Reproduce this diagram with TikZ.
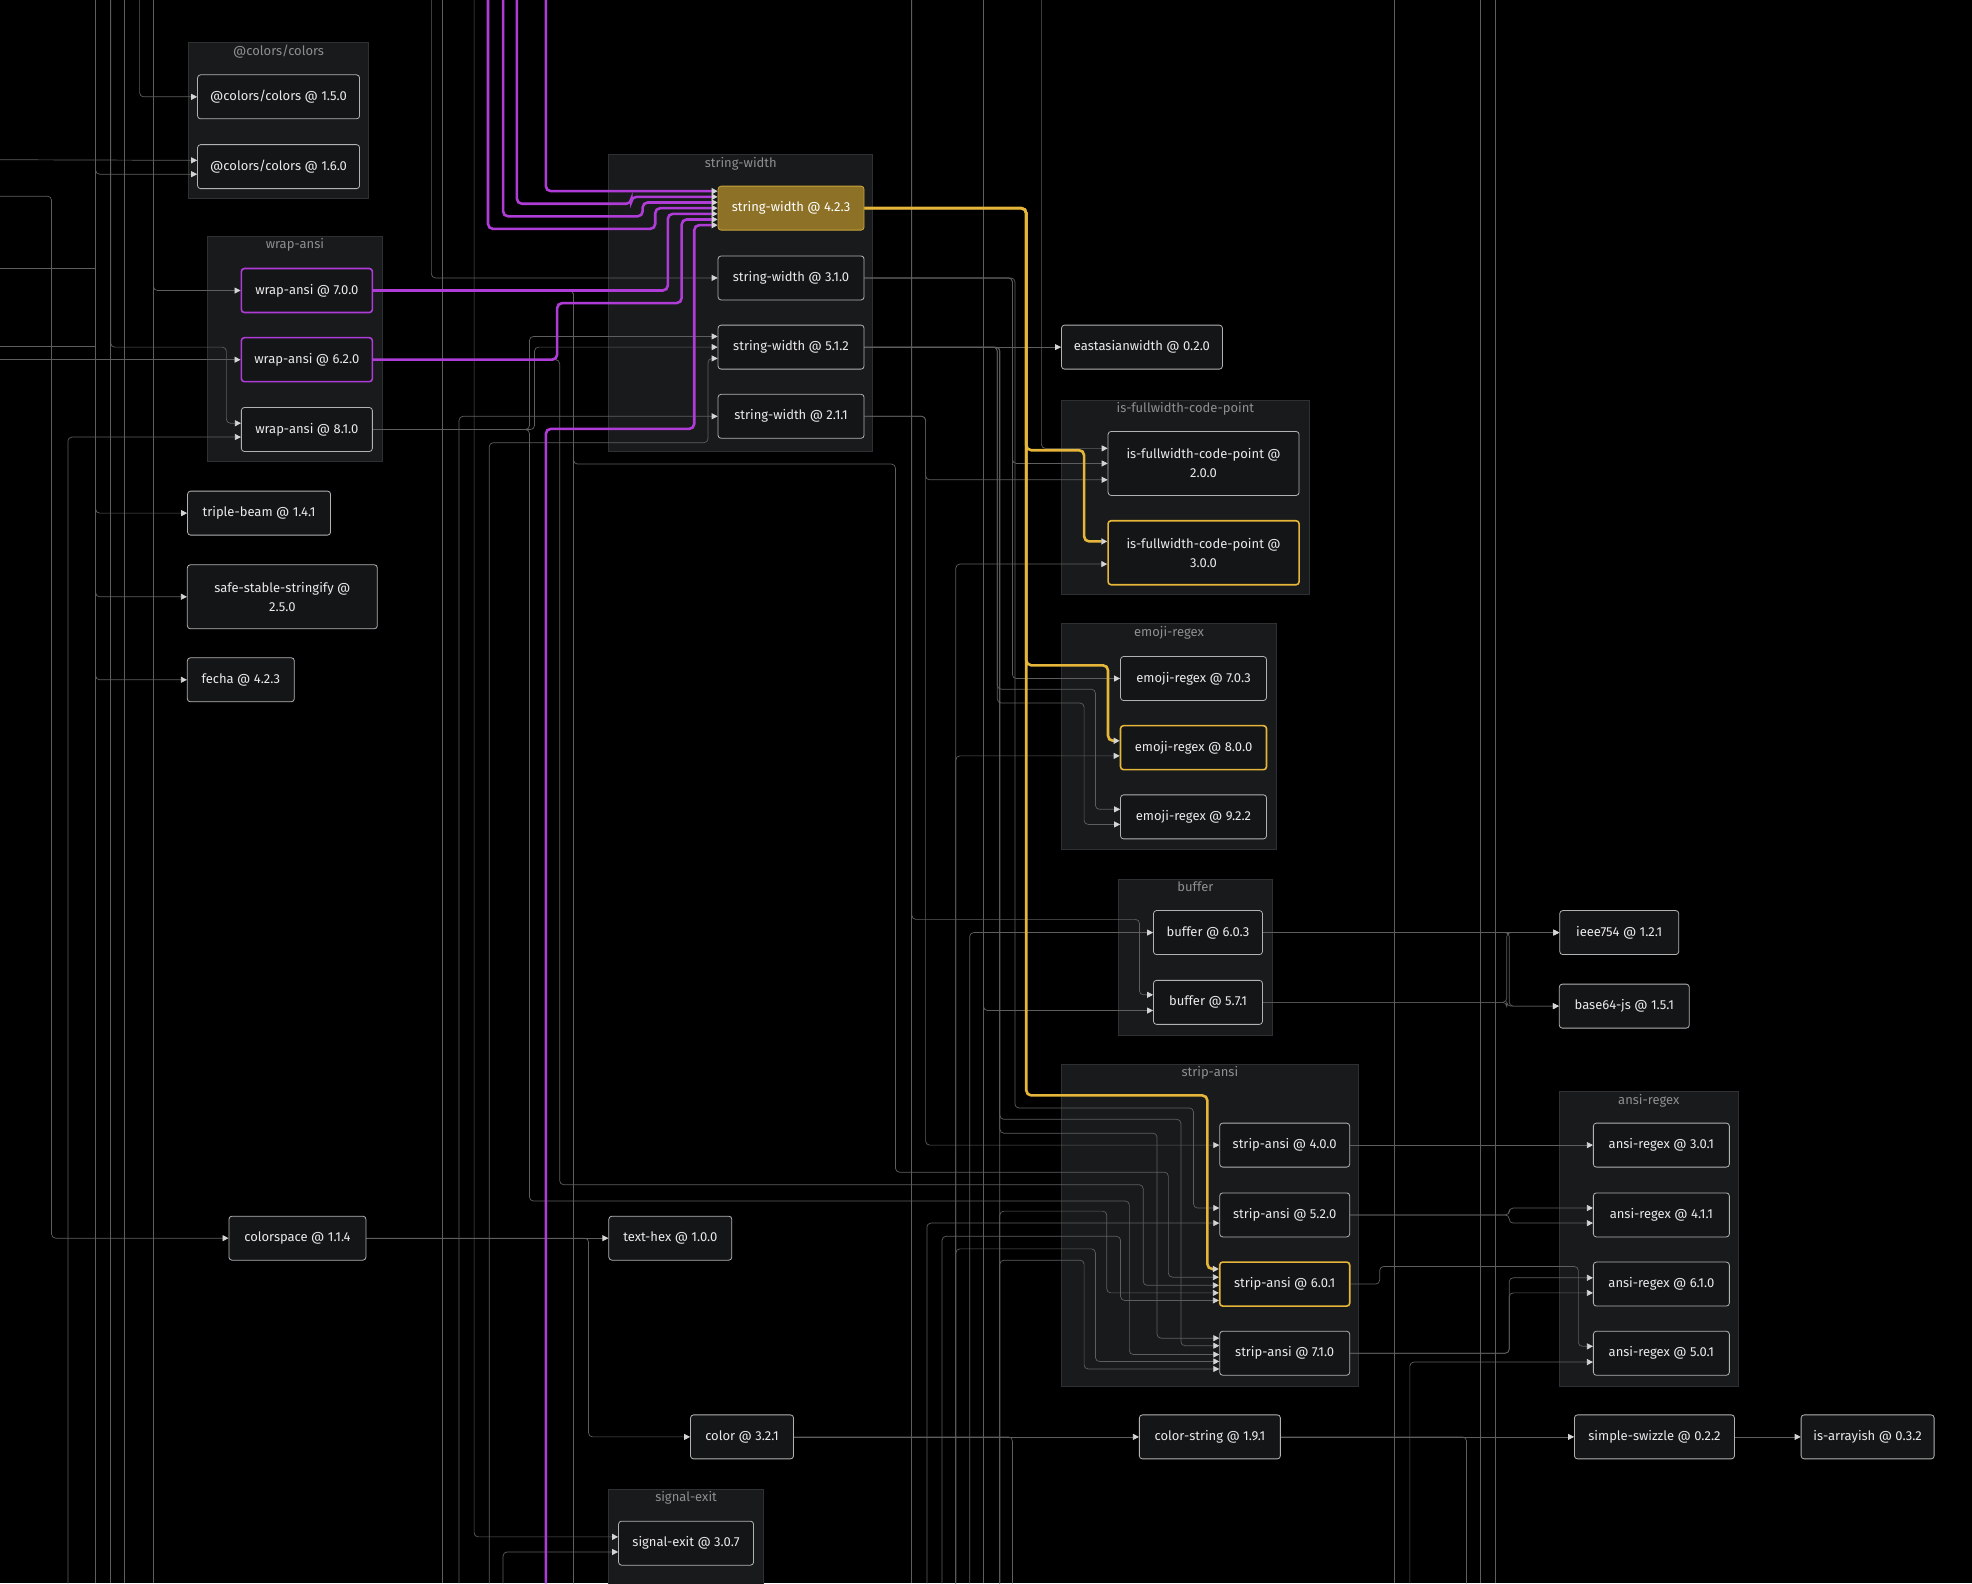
\documentclass[tikz,border=0pt]{standalone}
\usepackage{fontspec}
\setmainfont{Fira Sans}
\usetikzlibrary{arrows.meta,calc}

\definecolor{grpfill}{HTML}{181A1C}
\definecolor{grpline}{HTML}{2E3134}
\definecolor{grptext}{HTML}{8E8F90}
\definecolor{nodefill}{HTML}{131516}
\definecolor{nodeline}{HTML}{B2B2B2}
\definecolor{nodetext}{HTML}{EAEAEA}
\definecolor{wirec}{HTML}{5E5E5E}
\definecolor{tipc}{HTML}{D4D4D4}
\definecolor{purp}{HTML}{B03CD8}
\definecolor{goldline}{HTML}{E6B63A}
\definecolor{goldfill}{HTML}{8C7126}
\definecolor{goldedge}{HTML}{C9A43A}

\newcommand\pkgfont{\fontsize{13}{19}\selectfont}

\pgfdeclarelayer{back}
\pgfdeclarelayer{wires}
\pgfsetlayers{back,wires,main}

\tikzset{
  pkg/.style={draw=nodeline, line width=0.8pt, fill=nodefill, rounded corners=3pt,
    text=nodetext, font=\pkgfont, minimum height=44pt, inner sep=2pt, align=center},
  via/.style={pkg, draw=purp, line width=1.6pt},
  hot/.style={pkg, draw=goldline, line width=1.6pt},
  picked/.style={pkg, draw=goldedge, fill=goldfill, text=white},
  grp/.style={fill=grpfill, draw=grpline, line width=0.8pt},
  grplabel/.style={text=grptext, font=\pkgfont, anchor=north, inner sep=2pt},
  line/.style={draw=wirec, line width=0.7pt, rounded corners=4pt},
  wire/.style={line, -{Triangle[length=6pt,width=6pt,color=tipc]}},
  vio/.style={draw=purp, line width=2.6pt, rounded corners=5pt, -{Triangle[length=6pt,width=6pt,color=tipc]}},
  gold/.style={draw=goldline, line width=2.6pt, rounded corners=5pt, -{Triangle[length=6pt,width=6pt,color=tipc]}}
}

\begin{document}
\begin{tikzpicture}[x=1.2577pt, y=-1.2577pt]

  % --- 1. canvas ---
  \useasboundingbox (0,0) rectangle (1568,1259);
  \clip (0,0) rectangle (1568,1259);
  \begin{pgfonlayer}{back}
    \fill[black] (0,0) rectangle (1568,1259);
  \end{pgfonlayer}

  % free ends of the wires (top, bottom, left edge)
  \foreach \x in {54,76,88,99,111,122,343,352,365,377,388,389,400,411,434,456,
                  725,737,749,760,771,782,795,805,828,1109,1121,1166,1177,1189} {
    \coordinate (t\x) at (\x,0);
    \coordinate (b\x) at (\x,1259);
  }
  \foreach \y in {127,156,213,275,286}
    \coordinate (l\y) at (0,\y);

  % --- 2. groups ---
  \begin{pgfonlayer}{back}
    \draw[grp] (150,34) rectangle (293,158);
    \draw[grp] (165,188) rectangle (304,367);
    \draw[grp] (484,123) rectangle (694,359);
    \draw[grp] (844,318) rectangle (1041,473);
    \draw[grp] (844,496) rectangle (1015,675);
    \draw[grp] (889,699) rectangle (1012,823);
    \draw[grp] (844,846) rectangle (1080,1102);
    \draw[grp] (1240,868) rectangle (1382,1102);
    \draw[grp] (484,1184) rectangle (607,1275);
  \end{pgfonlayer}
  \node[grplabel] (gcolors) at (221.5,34) {@colors/colors};
  \node[grplabel] (gwrap)   at (234.5,188) {wrap-ansi};
  \node[grplabel] (gsw)     at (589,123) {string-width};
  \node[grplabel] (gifcp)   at (942.5,318) {is-fullwidth-code-point};
  \node[grplabel] (gemoji)  at (929.5,496) {emoji-regex};
  \node[grplabel] (gbuf)    at (950.5,699) {buffer};
  \node[grplabel] (gstrip)  at (962,846) {strip-ansi};
  \node[grplabel] (gansi)   at (1311,868) {ansi-regex};
  \node[grplabel] (gsig)    at (545.5,1184) {signal-exit};

  % --- 3. packages ---
  \node[pkg, minimum width=162pt] (cc150) at (221.5,77) {@colors/colors @ 1.5.0};
  \node[pkg, minimum width=162pt] (cc160) at (221.5,132.5) {@colors/colors @ 1.6.0};
  \node[via, minimum width=131pt] (wa700) at (244,231) {wrap-ansi @ 7.0.0};
  \node[via, minimum width=131pt] (wa620) at (244,286) {wrap-ansi @ 6.2.0};
  \node[pkg, minimum width=131pt] (wa810) at (244,341.5) {wrap-ansi @ 8.1.0};
  \node[pkg, minimum width=143pt] (tb141) at (206,408) {triple-beam @ 1.4.1};
  \node[pkg, minimum width=190pt, minimum height=64pt] (ssf) at (224.5,474.5) {safe-stable-stringify @\\2.5.0};
  \node[pkg, minimum width=107pt] (fecha) at (191.5,540.5) {fecha @ 4.2.3};

  \node[picked, minimum width=146pt] (sw423) at (629,165.5) {string-width @ 4.2.3};
  \node[pkg, minimum width=146pt] (sw310) at (629,221) {string-width @ 3.1.0};
  \node[pkg, minimum width=146pt] (sw512) at (629,276) {string-width @ 5.1.2};
  \node[pkg, minimum width=146pt] (sw211) at (629,331) {string-width @ 2.1.1};

  \node[pkg, minimum width=161pt] (eaw) at (908,276) {eastasianwidth @ 0.2.0};
  \node[pkg, minimum width=191pt, minimum height=64pt] (ifcp200) at (957,368.5) {is-fullwidth-code-point @\\2.0.0};
  \node[hot, minimum width=191pt, minimum height=64pt] (ifcp300) at (957,439.5) {is-fullwidth-code-point @\\3.0.0};
  \node[pkg, minimum width=146pt] (er703) at (949,539.5) {emoji-regex @ 7.0.3};
  \node[hot, minimum width=146pt] (er800) at (949,594.5) {emoji-regex @ 8.0.0};
  \node[pkg, minimum width=146pt] (er922) at (949,649.5) {emoji-regex @ 9.2.2};
  \node[pkg, minimum width=109pt] (buf603) at (960.5,741.5) {buffer @ 6.0.3};
  \node[pkg, minimum width=109pt] (buf571) at (960.5,797) {buffer @ 5.7.1};
  \node[pkg, minimum width=119pt] (ieee) at (1287.5,741.5) {ieee754 @ 1.2.1};
  \node[pkg, minimum width=130pt] (base64) at (1291.5,800) {base64-js @ 1.5.1};

  \node[pkg, minimum width=130pt] (sa400) at (1021.5,910.5) {strip-ansi @ 4.0.0};
  \node[pkg, minimum width=130pt] (sa520) at (1021.5,966) {strip-ansi @ 5.2.0};
  \node[hot, minimum width=130pt] (sa601) at (1021.5,1021) {strip-ansi @ 6.0.1};
  \node[pkg, minimum width=130pt] (sa710) at (1021.5,1076) {strip-ansi @ 7.1.0};
  \node[pkg, minimum width=136pt] (ar301) at (1321,910.5) {ansi-regex @ 3.0.1};
  \node[pkg, minimum width=136pt] (ar411) at (1321,966) {ansi-regex @ 4.1.1};
  \node[pkg, minimum width=136pt] (ar610) at (1321,1021) {ansi-regex @ 6.1.0};
  \node[pkg, minimum width=136pt] (ar501) at (1321,1076) {ansi-regex @ 5.0.1};

  \node[pkg, minimum width=137pt] (colorspace) at (236.5,984.5) {colorspace @ 1.1.4};
  \node[pkg, minimum width=123pt] (texthex) at (533,984.5) {text-hex @ 1.0.0};
  \node[pkg, minimum width=103pt] (color321) at (590,1142.5) {color @ 3.2.1};
  \node[pkg, minimum width=141pt] (colorstring) at (962,1142.5) {color-string @ 1.9.1};
  \node[pkg, minimum width=160pt] (simpleswizzle) at (1315.5,1142.5) {simple-swizzle @ 0.2.2};
  \node[pkg, minimum width=133pt] (isarrayish) at (1485,1142.5) {is-arrayish @ 0.3.2};
  \node[pkg, minimum width=135pt] (signalexit) at (545.5,1227) {signal-exit @ 3.0.7};

  \begin{pgfonlayer}{wires}
  % --- 4. grey wires, left column ---
  \draw[wire] (t111) |- (cc150.west);
  \draw[wire] (l127) -- ($(cc160.west)+(0,-5)$);
  \draw[wire] (t76) |- ($(cc160.west)+(0,6)$);
  \draw[wire] (t76) |- (tb141.west);
  \draw[wire] (t76) |- (ssf.west);
  \draw[wire] (t76) |- (fecha.west);
  \draw[line] (t76) -- (b76);
  \draw[line] (l213) -- (l213 -| t76);
  \draw[line] (l275) -- (l275 -| t76);
  \draw[wire] (l286) -- (wa620.west);
  \draw[wire] (t122) |- (wa700.west);
  \draw[line] (t122) -- (b122);
  \draw[wire] (t88) |- (180,276) |- ($(wa810.west)+(0,-5)$);
  \draw[line] (t88) -- (b88);
  \draw[wire] (b54) |- ($(wa810.west)+(0,6)$);
  \draw[wire] (l156) -- (41,156) |- (colorspace.west);
  \foreach \x in {99,352,1109,1177,1189}
    \draw[line] (t\x) -- (b\x);

  % --- 5. grey wires, middle ---
  \draw[wire] (t343) |- (sw310.west);
  \draw[wire] (b365) |- (sw211.west);
  \draw[wire] (b389) |- (563,352) |- ($(sw512.west)+(0,9)$);
  \draw[wire] (wa810.east) -- (421,341.5) |- ($(sw512.west)+(0,-8.5)$);
  \draw[wire] (wa810.east) -- (425,341.5) |- (sw512.west);
  \draw[wire] (wa810.east) -- (421,341.5) |- (898,955) |- ($(sa710.west)+(0,1)$);
  \draw[wire] (wa700.east) -- (456,231) |- (712,369) |- (929,932) |- ($(sa601.west)+(0,-5.5)$);
  \draw[line] (wa700.east) -- (456,231) -- (b456);
  \draw[wire] (wa620.east) -- (445,286) |- (909,942) |- ($(sa601.west)+(0,1)$);

  % --- 6. grey wires, right ---
  \draw[wire] (sw310.east) -- (805,221) |- (ifcp200.west);
  \draw[wire] (sw310.east) -- (805,221) |- (er703.west);
  \draw[wire] (sw310.east) -- (807,221) |- (949,881) |- ($(sa520.west)+(0,-5.5)$);
  \draw[wire] (sw512.east) -- (eaw.west);
  \draw[wire] (sw512.east) -- (793,276) |- (871,548) |- ($(er922.west)+(0,-6)$);
  \draw[wire] (sw512.east) -- (793,276) |- (862,559) |- ($(er922.west)+(0,6)$);
  \draw[wire] (sw512.east) -- (795,276) |- (920,901) |- ($(sa710.west)+(0,-12)$);
  \draw[wire] (sw512.east) -- (795,276) |- (939,890) |- ($(sa710.west)+(0,-6)$);
  \draw[line] (sw512.east) -- (795,276) -- (b795);
  \draw[wire] (sw211.east) -- (736,331) |- ($(ifcp200.west)+(0,13)$);
  \draw[wire] (sw211.east) -- (736,331) |- (sa400.west);
  \draw[wire] (t828) |- ($(ifcp200.west)+(0,-12)$);
  \draw[wire] (b760) |- ($(ifcp300.west)+(0,9)$);
  \draw[wire] (b760) |- ($(er800.west)+(0,6.5)$);
  \draw[wire] (b760) |- (871,993) |- ($(sa710.west)+(0,6.5)$);
  \draw[line] (t725) -- (b725);
  \draw[wire] (t725) |- (906,731) |- ($(buf571.west)+(0,-6)$);
  \draw[wire] (b771) |- (buf603.west);
  \draw[line] (t782) -- (b782);
  \draw[wire] (t782) |- ($(buf571.west)+(0,6.5)$);
  \draw[wire] (buf603.east) -- (ieee.west);
  \draw[wire] (buf603.east) -- (1200,741.5) |- (base64.west);
  \draw[wire] (buf571.east) -- (1198,797) |- (ieee.west);
  \draw[wire] (buf571.east) -- (1198,797) |- (base64.west);
  \draw[wire] (b737) |- ($(sa520.west)+(0,6.5)$);
  \draw[wire] (b749) |- (891,983) |- ($(sa601.west)+(0,13)$);
  \draw[wire] (b795) |- (880,963) |- ($(sa601.west)+(0,7)$);
  \draw[wire] (b795) |- (862,1002) |- ($(sa710.west)+(0,12.5)$);

  % strip-ansi -> ansi-regex
  \draw[wire] (sa400.east) -- (ar301.west);
  \draw[wire] (sa520.east) -- (1200,966) |- ($(ar411.west)+(0,-5.5)$);
  \draw[wire] (sa520.east) -- (1200,966) |- ($(ar411.west)+(0,6.5)$);
  \draw[wire] (sa601.east) -- (1097,1021) |- (1255,1007) |- ($(ar501.west)+(0,-5.5)$);
  \draw[wire] (sa710.east) -- (1200,1076) |- ($(ar610.west)+(0,-5)$);
  \draw[wire] (sa710.east) -- (1200,1076) |- ($(ar610.west)+(0,7)$);
  \draw[wire] (b1121) |- ($(ar501.west)+(0,7)$);

  % --- 7. grey wires, bottom row ---
  \draw[wire] (colorspace.east) -- (texthex.west);
  \draw[wire] (colorspace.east) -- (468,984.5) |- (color321.west);
  \draw[wire] (color321.east) -- (colorstring.west);
  \draw[line] (color321.east) -- (805,1142.5) -- (b805);
  \draw[wire] (colorstring.east) -- (simpleswizzle.west);
  \draw[line] (colorstring.east) -- (1166,1142.5) -- (b1166);
  \draw[wire] (simpleswizzle.east) -- (isarrayish.west);
  \draw[wire] (t377) |- ($(signalexit.west)+(0,-5)$);
  \draw[wire] (b400) |- ($(signalexit.west)+(0,7)$);

  % --- 8. highlighted paths ---
  \draw[vio] (t434) |- ($(sw423.west)+(0,-13.5)$);
  \draw[vio] (t411) |- (502,162) |- ($(sw423.west)+(0,-9)$);
  \draw[vio] (t400) |- (511,172) |- ($(sw423.west)+(0,-4.5)$);
  \draw[vio] (t388) |- (521,182) |- (sw423.west);
  \draw[vio] (wa700.east) -- (531,231) |- ($(sw423.west)+(0,4.5)$);
  \draw[vio] (wa620.east) -- (443,286) |- (542,241) |- ($(sw423.west)+(0,9)$);
  \draw[vio] (b434) |- (552,341) |- ($(sw423.west)+(0,13.5)$);

  \draw[gold] (sw423.east) -- (816,165.5) |- (862,358) |- ($(ifcp300.west)+(0,-9)$);
  \draw[gold] (sw423.east) -- (816,165.5) |- (881,529) |- ($(er800.west)+(0,-5.5)$);
  \draw[gold] (sw423.east) -- (816,165.5) |- (960,871) |- ($(sa601.west)+(0,-12)$);
  \end{pgfonlayer}

\end{tikzpicture}
\end{document}
